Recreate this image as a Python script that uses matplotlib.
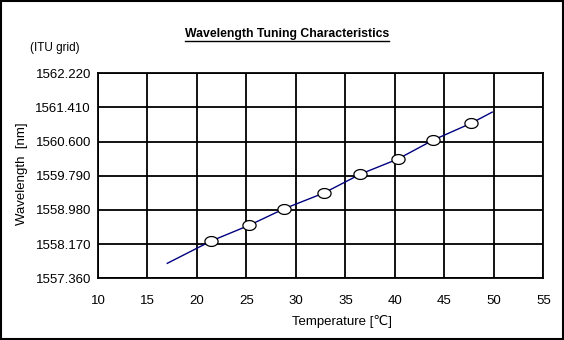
import matplotlib
matplotlib.use("Agg")
import matplotlib.pyplot as plt
from matplotlib.path import Path
from matplotlib.patches import Rectangle
from matplotlib.lines import Line2D
import numpy as np

# Data
marker_temp = [21.43, 25.27, 28.84, 32.82, 36.52, 40.30, 43.87, 47.68]
marker_wl = [1558.244, 1558.616, 1559.012, 1559.381, 1559.830, 1560.187, 1560.637, 1561.033]
line_temp = [17.0, 21.43, 25.27, 28.84, 32.82, 36.52, 40.30, 43.87, 47.68, 49.84]
line_wl = [1557.715, 1558.244, 1558.616, 1559.012, 1559.381, 1559.830, 1560.187, 1560.637, 1561.033, 1561.300]
x_ticks = [10, 15, 20, 25, 30, 35, 40, 45, 50, 55]
y_ticks = [1557.360, 1558.170, 1558.980, 1559.790, 1560.600, 1561.410, 1562.220]

plt.rcParams['font.family'] = ['Liberation Sans', 'DejaVu Sans']

fig = plt.figure(figsize=(5.64, 3.40), dpi=100)
ax = fig.add_axes([98/564, (340-278.3)/340, (543.3-98)/564, (278.3-73.3)/340])

# ellipse marker
t = np.linspace(0, 2*np.pi, 41)
ell = Path(np.column_stack([np.cos(t), 0.75*np.sin(t)]), closed=True)

ax.plot(line_temp, line_wl, color='#000080', lw=1.0, zorder=3)
ax.plot(marker_temp, marker_wl, linestyle='none', marker=ell, markersize=9.5,
        markerfacecolor='white', markeredgecolor='black', markeredgewidth=0.9, zorder=4)

ax.set_xlim(10, 55)
ax.set_ylim(1557.36, 1562.22)
ax.set_xticks(x_ticks)
ax.set_yticks(y_ticks)
ax.set_xticklabels([str(v) for v in x_ticks])
ax.set_yticklabels([f"{v:.3f}" for v in y_ticks])
ax.tick_params(length=0, labelsize=9.5)
ax.tick_params(axis='x', pad=12)
ax.tick_params(axis='y', pad=5)
ax.grid(True, color='black', lw=1.3)
ax.set_axisbelow(True)
for s in ax.spines.values():
    s.set_linewidth(1.3)

fig.text(342/564, 1-321/340, 'Temperature [℃]', fontsize=9.5, ha='center', va='center')
fig.text(22/564, 1-174/340, 'Wavelength  [nm]', rotation=90, fontsize=9.5,
         ha='center', va='center')
fig.text(30/564, 1-48/340, '(ITU grid)', fontsize=8.5, ha='left', va='center')
title = fig.text(287/564, 1-34/340, 'Wavelength Tuning Characteristics', fontsize=8.8,
                 fontweight='bold', ha='center', va='center')

fig.canvas.draw()
bb = title.get_window_extent(fig.canvas.get_renderer())
yline = (bb.y0 - 1) / fig.bbox.height
fig.add_artist(Line2D([bb.x0/fig.bbox.width, bb.x1/fig.bbox.width], [yline, yline],
                      transform=fig.transFigure, color='black', lw=1.0))

fig.add_artist(Rectangle((0.5/564, 1.5/340), 562.5/564, 337.5/340, transform=fig.transFigure,
                         fill=False, edgecolor='black', lw=1.5))

fig.savefig('out.png', dpi=100)
